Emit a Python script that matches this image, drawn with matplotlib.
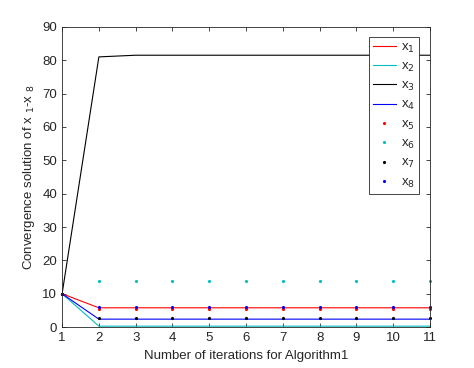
import matplotlib.pyplot as plt

plt.rcParams['font.family'] = ['Liberation Sans', 'DejaVu Sans']

iters = [1, 2, 3, 4, 5, 6, 7, 8, 9, 10, 11]
x1 = [10, 5.8, 5.8, 5.8, 5.8, 5.8, 5.8, 5.8, 5.8, 5.8, 5.8]
x2 = [10, 0.3, 0.3, 0.3, 0.3, 0.3, 0.3, 0.3, 0.3, 0.3, 0.3]
x3 = [10, 81.0, 81.5, 81.5, 81.5, 81.5, 81.5, 81.5, 81.5, 81.5, 81.5]
x4 = [10, 2.4, 2.4, 2.4, 2.4, 2.4, 2.4, 2.4, 2.4, 2.4, 2.4]
x5 = [10, 5.3, 5.3, 5.3, 5.3, 5.3, 5.3, 5.3, 5.3, 5.3, 5.3]
x6 = [10, 13.8, 13.8, 13.8, 13.8, 13.8, 13.8, 13.8, 13.8, 13.8, 13.8]
x7 = [10, 2.6, 2.6, 2.6, 2.6, 2.6, 2.6, 2.6, 2.6, 2.6, 2.6]
x8 = [10, 6.0, 6.0, 6.0, 6.0, 6.0, 6.0, 6.0, 6.0, 6.0, 6.0]

fig = plt.figure(figsize=(4.74, 3.68), dpi=100)
ax = fig.add_axes([0.131, 0.111, 0.776, 0.816])

ax.plot(iters, x1, color='r', lw=0.8, label='x$_1$')
ax.plot(iters, x2, color='c', lw=0.8, label='x$_2$')
ax.plot(iters, x3, color='k', lw=0.8, label='x$_3$')
ax.plot(iters, x4, color='b', lw=0.8, label='x$_4$')
ax.plot(iters, x5, 'r.', ms=2.5, clip_on=False, label='x$_5$')
ax.plot(iters, x6, 'c.', ms=2.5, clip_on=False, label='x$_6$')
ax.plot(iters, x7, 'k.', ms=2.5, clip_on=False, label='x$_7$')
ax.plot(iters, x8, 'b.', ms=2.5, clip_on=False, label='x$_8$')

ax.set_xlim(1, 11)
ax.set_ylim(0, 90)
ax.set_xticks(iters)
ax.set_yticks(range(0, 91, 10))
ax.tick_params(direction='in', top=True, right=True, labelsize=9.5, length=3,
               width=0.6, colors='#262626')
for s in ax.spines.values():
    s.set_linewidth(0.6)
    s.set_color('#262626')

ax.set_xlabel('Number of iterations for Algorithm1', fontsize=9.5, color='#262626')
ax.set_ylabel('Convergence solution of x $_1$-x $_8$', fontsize=9.5, color='#262626')

leg = ax.legend(loc='upper right', bbox_to_anchor=(0.97, 0.965), fontsize=9.5,
                fancybox=False, framealpha=1, edgecolor='#262626',
                handlelength=1.7, labelspacing=0.45, borderpad=0.3,
                handletextpad=0.4, borderaxespad=0.0)
leg.get_frame().set_linewidth(0.6)
for t in leg.get_texts():
    t.set_color('#262626')

plt.savefig('out.png', dpi=100)
